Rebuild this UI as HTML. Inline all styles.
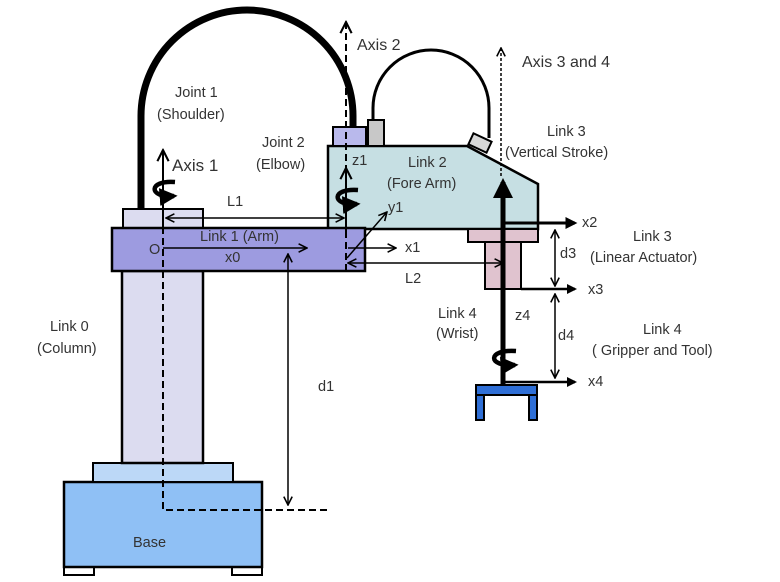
<!DOCTYPE html>
<html><head><meta charset="utf-8"><style>
body{margin:0;background:#fff}
svg{display:block;font-family:"Liberation Sans","DejaVu Sans",sans-serif}
text{font-size:14.5px;fill:#333}
</style></head><body>
<svg width="780" height="582" viewBox="0 0 780 582">
<defs>
<marker id="a" viewBox="0 0 10 10" refX="9" refY="5" markerWidth="7" markerHeight="7" orient="auto-start-reverse"><path d="M1,1 L9,5 L1,9" fill="none" stroke="#000" stroke-width="1.5"/></marker>
<marker id="f" viewBox="0 0 10 10" refX="8" refY="5" markerWidth="4" markerHeight="4" orient="auto"><path d="M0,0 L10,5 L0,10z" fill="#000"/></marker>
</defs>
<rect x="64" y="567" width="30" height="8" fill="#fff" stroke="#000" stroke-width="2"/>
<rect x="232" y="567" width="30" height="8" fill="#fff" stroke="#000" stroke-width="2"/>
<rect x="64" y="482" width="198" height="85" fill="#8fc0f5" stroke="#000" stroke-width="2.5"/>
<rect x="93" y="463" width="140" height="19" fill="#bcd8f7" stroke="#000" stroke-width="2"/>
<rect x="122" y="271" width="81" height="192" fill="#dcdcf0" stroke="#000" stroke-width="2.5"/>
<rect x="123" y="209" width="80" height="19" fill="#dcdcf0" stroke="#000" stroke-width="2"/>
<path d="M141,209 L141,116 A106,106 0 0 1 353,116 L353,127" fill="none" stroke="#000" stroke-width="7"/>
<path d="M373,120 L373,108 A58,58 0 0 1 489,108 L489,138" fill="none" stroke="#000" stroke-width="3"/>
<path d="M328,146 L467,146 L538,184 L538,229 L328,229 Z" fill="#c6dfe3" stroke="#000" stroke-width="2.5"/>
<rect x="333" y="127" width="33" height="19" fill="#b9b9ec" stroke="#000" stroke-width="2"/>
<rect x="368" y="120" width="16" height="26" fill="#c8c8c8" stroke="#000" stroke-width="2"/>
<rect x="470" y="137" width="20" height="12" fill="#d8d8d8" stroke="#000" stroke-width="2" transform="rotate(25 480 143)"/>
<rect x="112" y="228" width="253" height="43" fill="#9d9be0" stroke="#000" stroke-width="2.5"/>
<rect x="468" y="229" width="70" height="13" fill="#e0c3cf" stroke="#000" stroke-width="2"/>
<rect x="485" y="242" width="36" height="47" fill="#e0c3cf" stroke="#000" stroke-width="2"/>
<rect x="476" y="385" width="61" height="10" fill="#2f6fd6" stroke="#000" stroke-width="2"/>
<rect x="476" y="395" width="8" height="25" fill="#2f6fd6" stroke="#000" stroke-width="2"/>
<rect x="529" y="395" width="8" height="25" fill="#2f6fd6" stroke="#000" stroke-width="2"/>
<path d="M163,150 L163,510 L330,510" fill="none" stroke="#000" stroke-width="2" stroke-dasharray="7,4"/>
<line x1="346" y1="22" x2="346" y2="272" stroke="#000" stroke-width="2" stroke-dasharray="7,4" marker-start="url(#a)"/>
<line x1="501" y1="48" x2="501" y2="178" stroke="#000" stroke-width="1.5" stroke-dasharray="3,2" marker-start="url(#a)"/>
<line x1="503" y1="385" x2="503" y2="182" stroke="#000" stroke-width="5" marker-end="url(#f)"/>
<line x1="503" y1="223" x2="575" y2="223" stroke="#000" stroke-width="3" marker-end="url(#f)"/>
<line x1="521" y1="289" x2="575" y2="289" stroke="#000" stroke-width="2.5" marker-end="url(#f)"/>
<line x1="503" y1="382" x2="575" y2="382" stroke="#000" stroke-width="2.5" marker-end="url(#f)"/>
<line x1="555" y1="230" x2="555" y2="286" stroke="#000" stroke-width="1.5" marker-start="url(#a)" marker-end="url(#a)"/>
<line x1="555" y1="294" x2="555" y2="378" stroke="#000" stroke-width="1.5" marker-start="url(#a)" marker-end="url(#a)"/>
<line x1="163" y1="232" x2="163" y2="150" stroke="#000" stroke-width="2" marker-end="url(#a)"/>
<line x1="346" y1="232" x2="346" y2="168" stroke="#000" stroke-width="2" marker-end="url(#a)"/>
<line x1="166" y1="218" x2="344" y2="218" stroke="#000" stroke-width="1.5" marker-start="url(#a)" marker-end="url(#a)"/>
<line x1="163" y1="248" x2="307" y2="248" stroke="#000" stroke-width="1.5" marker-end="url(#a)"/>
<line x1="348" y1="248" x2="396" y2="248" stroke="#000" stroke-width="1.5" marker-end="url(#a)"/>
<line x1="348" y1="263" x2="503" y2="263" stroke="#000" stroke-width="1.5" marker-start="url(#a)" marker-end="url(#a)"/>
<line x1="347" y1="258" x2="387" y2="212" stroke="#000" stroke-width="1.5" marker-end="url(#a)"/>
<line x1="288" y1="254" x2="288" y2="505" stroke="#000" stroke-width="1.5" marker-start="url(#a)" marker-end="url(#a)"/>
<g fill="none" stroke="#000" stroke-width="4.5">
<path d="M175,182 C148,180 148,198 174,196" marker-end="url(#f)"/>
<path d="M358,190 C331,188 331,206 357,204" marker-end="url(#f)"/>
<path d="M516,351 C487,349 487,367 515,365" marker-end="url(#f)"/>
</g>
<text x="357" y="50" style="font-size:16px">Axis 2</text>
<text x="522" y="67" style="font-size:16px">Axis 3 and 4</text>
<text x="175" y="97">Joint 1</text>
<text x="157" y="119">(Shoulder)</text>
<text x="172" y="171" style="font-size:17px">Axis 1</text>
<text x="262" y="147">Joint 2</text>
<text x="256" y="169">(Elbow)</text>
<text x="352" y="165">z1</text>
<text x="408" y="167">Link 2</text>
<text x="387" y="188">(Fore Arm)</text>
<text x="547" y="136">Link 3</text>
<text x="505" y="157">(Vertical Stroke)</text>
<text x="227" y="206">L1</text>
<text x="388" y="212">y1</text>
<text x="200" y="241">Link 1 (Arm)</text>
<text x="149" y="254">O</text>
<text x="225" y="262">x0</text>
<text x="405" y="252">x1</text>
<text x="405" y="283">L2</text>
<text x="582" y="227">x2</text>
<text x="633" y="241">Link 3</text>
<text x="590" y="262">(Linear Actuator)</text>
<text x="560" y="258">d3</text>
<text x="588" y="294">x3</text>
<text x="438" y="318">Link  4</text>
<text x="436" y="338">(Wrist)</text>
<text x="515" y="320">z4</text>
<text x="558" y="340">d4</text>
<text x="643" y="334">Link 4</text>
<text x="592" y="355">( Gripper and Tool)</text>
<text x="588" y="386">x4</text>
<text x="50" y="331">Link 0</text>
<text x="37" y="353">(Column)</text>
<text x="318" y="391">d1</text>
<text x="133" y="547">Base</text>
</svg>
</body></html>
